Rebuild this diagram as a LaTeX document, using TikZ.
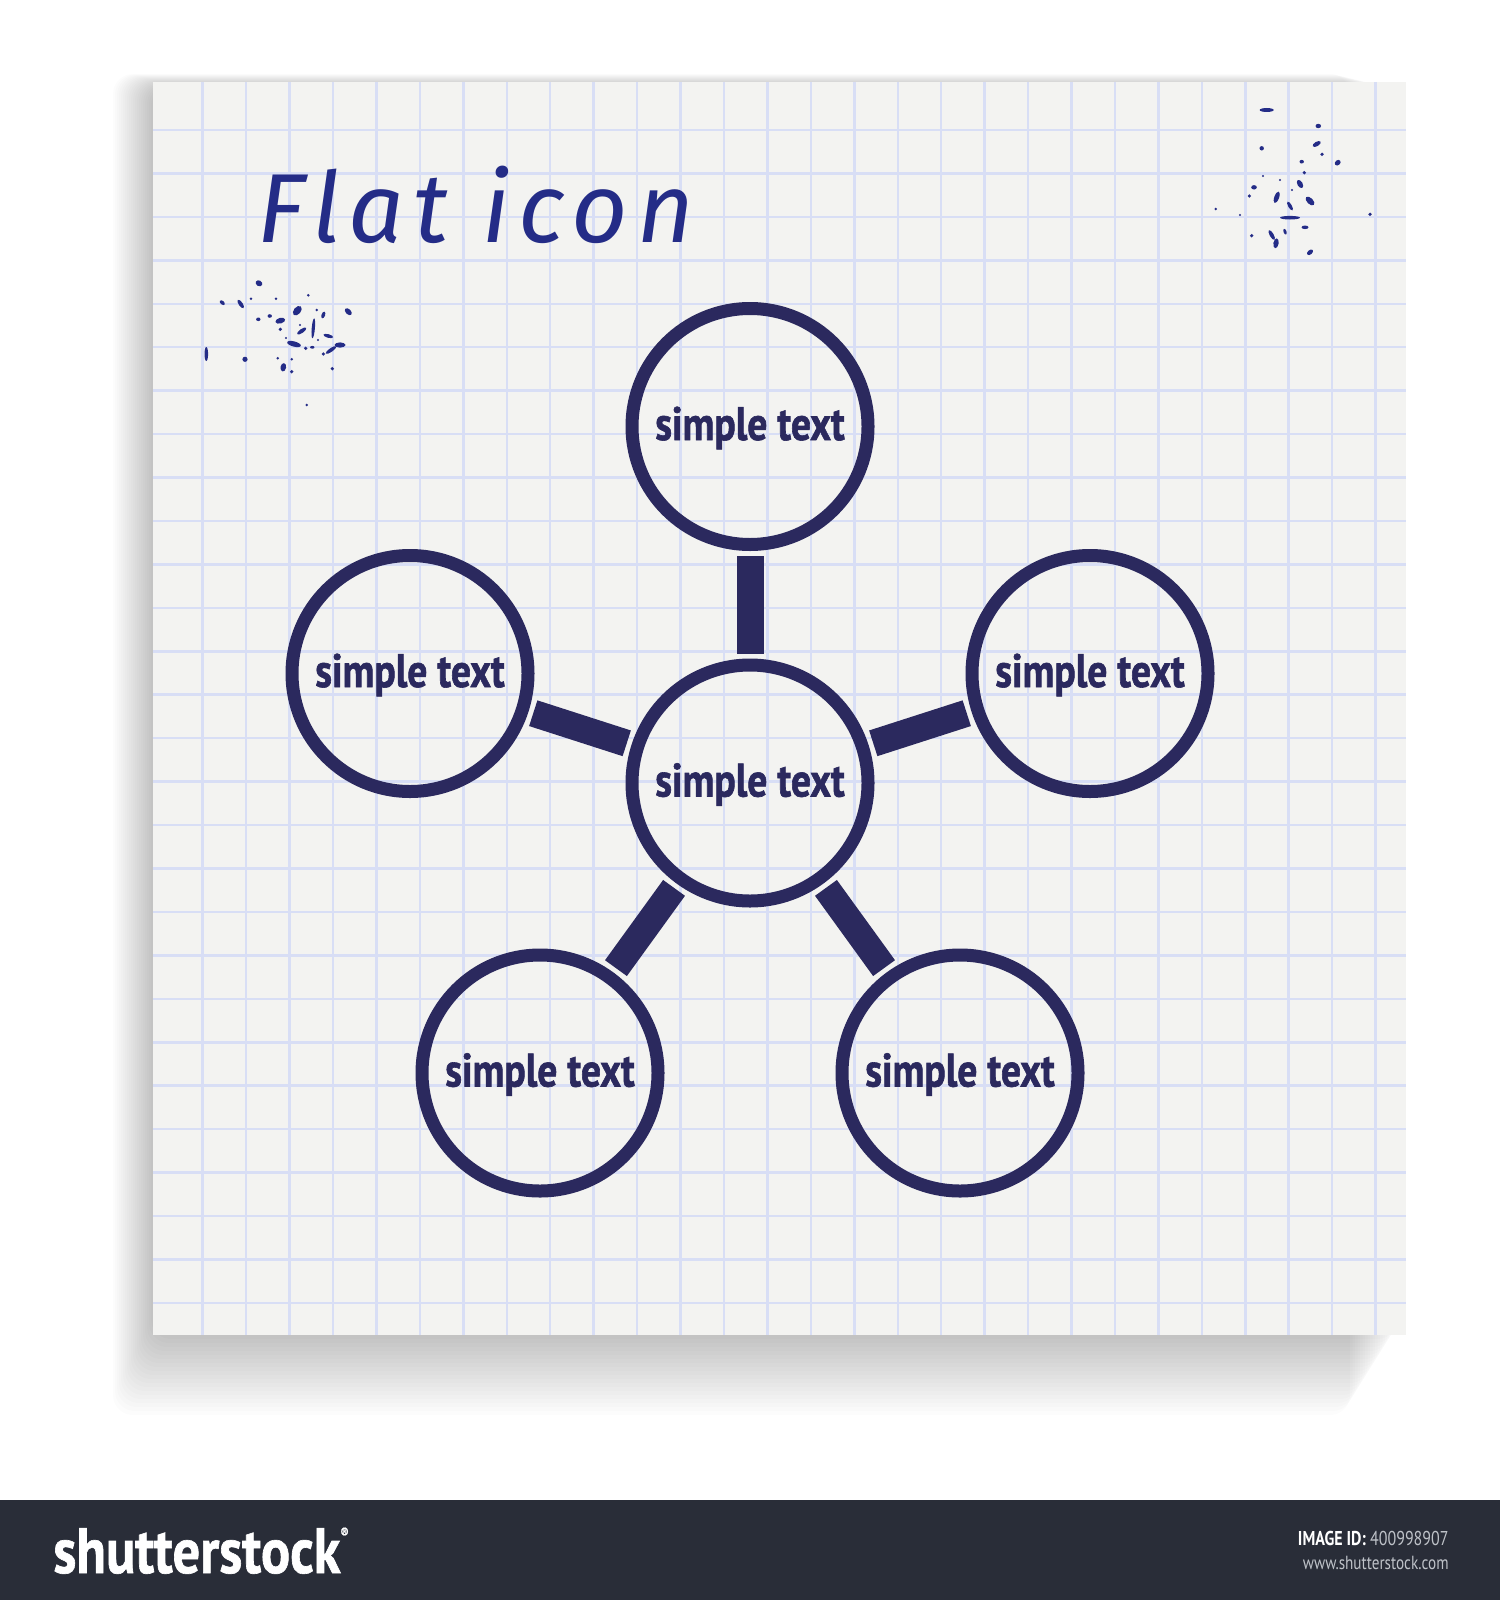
\documentclass[tikz,border=0pt]{standalone}
\usepackage{fontspec}
\newfontfamily\bubblefont[FakeStretch=0.84,BoldFeatures={FakeBold=1.3}]{PT Sans}
\newfontfamily\titlefont[LetterSpace=9]{Fira Sans}
\newfontfamily\logofont[FakeStretch=0.85,BoldFeatures={FakeBold=1}]{PT Sans}
\newfontfamily\creditfont[FakeStretch=0.8]{PT Sans}
\usetikzlibrary{positioning}
\definecolor{navy}{RGB}{43,41,94}
\definecolor{ink}{RGB}{36,44,135}
\definecolor{paper}{RGB}{243,243,241}
\definecolor{gridline}{RGB}{216,222,245}
\definecolor{bar}{RGB}{41,45,56}
\definecolor{credit}{RGB}{190,194,200}

\begin{document}
\begin{tikzpicture}[x=0.5pt,y=-0.5pt,
    bubble/.style={circle,draw=navy,line width=6.5pt,minimum size=118pt,inner sep=0pt,
        text=navy,font=\bubblefont\bfseries\fontsize{23.5}{25}\selectfont,
        text height=19pt,text depth=5.5pt},
    spoke/.style={draw=navy,line width=13.5pt,shorten <=2.5pt,shorten >=2.5pt},
    squared/.style={gridline,line width=1.25pt}]
        \useasboundingbox (0,0) rectangle (1500,1600);
        \fill[white] (0,0) rectangle (1500,1600);
        % soft shadow under the sheet
        \foreach \i in {1,...,20}
            \fill[black,opacity=.012,rounded corners=10pt] (153-2*\i,86-0.6*\i) rectangle (1400-2.5*\i,1335+4*\i);
        \fill[paper] (153,82) rectangle (1406,1335);
        \foreach \k in {0,...,27} {
            \draw[squared] ({202.7+43.44*\k},82) -- ({202.7+43.44*\k},1335);
            \draw[squared] (153,{130+43.44*\k}) -- (1406,{130+43.44*\k});
        }
        % ink splashes
        \foreach \x/\y/\a/\b/\r in {1266.7/110/7/2/0,1318.3/126/2.8/2.2/0,1316.7/144/4.5/2.2/30,
            1322/154.3/1.8/1.8/0,1337.7/162.7/3.2/2.5/40,1261.7/148.3/2.2/2.2/0,1301.7/161.7/2.2/1.8/0,
            1304.3/172.7/1.8/1.8/0,1300/184/4.5/2.6/-60,1254/187.3/2.8/2.2/0,1276.7/197.3/6/2.4/70,
            1290/206/5/1.8/-60,1310/201/5.5/3/-45,1290/217.7/10/1.8/0,1271.7/235/5.5/2/-60,
            1276/243.3/5/2.6/80,1285/231.7/3/1.5/-70,1305/227.3/3.5/1.8/0,1310/252.3/3.5/2.2/40,
            1251.7/235.7/1.8/1.8/0,1249.3/196/1.8/1.8/0,1370/214.3/1.8/1.8/0,1215.7/209/1.4/1.4/0,
            1263/176/1.2/1.2/0,1280/180/1.2/1.2/0,1292/190/1.2/1.2/0,1240/215/1.2/1.2/0,
            259/283.3/3.5/2.8/-30,222.3/302.7/3/1.8/-40,240.7/304/5/2/-55,251/298.7/1.4/1.4/0,
            276/298.7/1.4/1.4/0,308.3/295.3/1.4/1.4/0,297.3/310.7/5.5/3.5/50,280.3/320.7/5/2.8/15,
            269.7/316/2.2/1.8/0,258.3/319.3/2.2/1.8/0,323.3/315/3.5/1.8/70,316.7/310/1.4/1.4/0,
            348.3/311.7/4.2/2.6/-45,313.3/328.3/10/1.6/85,301.7/331/5.5/2/35,328.3/336/5/1.8/-15,
            280.3/329.3/1.8/1.8/0,294/344/7/2.6/-15,305.7/348.3/1.8/1.8/0,312.3/347.3/2.2/1.4/0,
            331/350/6.5/1.8/35,340/345/5.5/2.6/0,323.3/354/1.8/1.8/0,206.3/354/7/1.8/90,
            245/359.3/2.6/2.6/0,283.3/367.3/4.2/2.8/80,291.7/371.7/1.8/1.8/0,332.3/368.7/1.8/1.8/0,
            291.7/359.3/1.4/1.4/0,277.7/358.3/1.4/1.4/0,306.7/405/1.4/1.4/0,286/338/1.2/1.2/0,
            300/325/1.2/1.2/0,318/340/1.2/1.2/0}
            \fill[ink,rotate around={\r:(\x,\y)}] (\x,\y) ellipse [x radius=\a, y radius=\b];
        \node[anchor=base west,text=ink,font=\titlefont\itshape\fontsize{49}{52}\selectfont] (title) at (250,242) {Flat icon};
        % the five around the hub
        \node[bubble] (hub) at (750,783) {simple text};
        \node[bubble] (top) at (750,426.5) {simple text};
        \node[bubble] (left) at (410,673.5) {simple text};
        \node[bubble] (right) at (1090,673.5) {simple text};
        \node[bubble] (lowleft) at (540,1073) {simple text};
        \node[bubble] (lowright) at (960,1073) {simple text};
        \foreach \n in {top,left,right,lowleft,lowright}
            \draw[spoke] (hub) -- (\n);
        % footer
        \fill[bar] (0,1500) rectangle (1500,1600);
        \node[anchor=base west,inner sep=0pt,text=white,font=\logofont\bfseries\fontsize{32}{34}\selectfont] (logo) at (53,1573) {shutterstock\raisebox{1.1ex}{\fontsize{7}{7}\selectfont\textregistered}};
        \node[anchor=base east,inner sep=0pt,text=white,font=\creditfont\fontsize{10}{11}\selectfont] (imageid) at (1449,1545) {\textbf{IMAGE ID:} {\color{credit}400998907}};
        \node[anchor=base east,inner sep=0pt,text=credit,font=\creditfont\fontsize{9.5}{10}\selectfont] (site) at (1449,1569) {www.shutterstock.com};
    \end{tikzpicture}
\end{document}
